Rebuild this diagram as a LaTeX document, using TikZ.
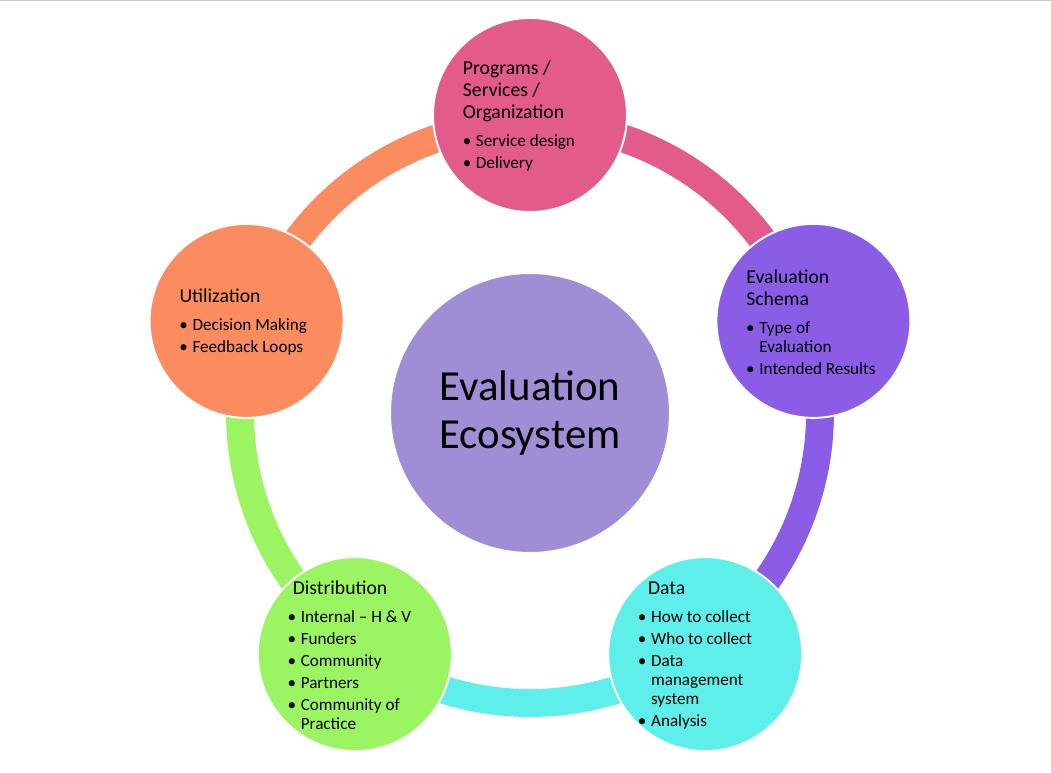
\documentclass[tikz,border=0pt]{standalone}
\usepackage{fontspec}
\setmainfont{Carlito}
\usepackage{tikz}
\usetikzlibrary{positioning, calc, backgrounds}
\definecolor{rosado}{RGB}{227,91,138}
\definecolor{morado}{RGB}{139,92,230}
\definecolor{celeste}{RGB}{94,239,234}
\definecolor{verdecito}{RGB}{155,244,98}
\definecolor{naranja}{RGB}{250,140,96}
\definecolor{lila}{RGB}{159,141,214}
\newcommand{\anilloradio}{5.8cm}
\newcommand{\cajaancho}{2.76cm}
\newcommand{\punto}[1]{\hangindent=8.5pt\hangafter=1\hspace*{1pt}\makebox[7.5pt][l]{\textbullet}#1\par}
\newcommand{\burbuja}[3][1.1pt]{\parbox[c]{\cajaancho}{\raggedright\hyphenpenalty=10000
  \fontsize{9.75}{10.8}\selectfont\parskip=1.7pt
  {\fontsize{11.2}{12.5}\selectfont\hangindent=1.1pt\hangafter=0\hspace*{\dimexpr#1-1.1pt\relax}#2\par}\vspace{3.4pt}#3}}
\tikzset{
  circulo/.style={circle, draw=white, line width=1.1pt, minimum size=3.88cm, inner sep=0pt},
  texto/.style={inner sep=0pt, yshift=-0.8pt},
  centrito/.style={circle, draw=white, line width=1.1pt, minimum size=5.6cm, inner sep=0pt,
    fill=lila, align=center, font=\fontsize{24.4}{27}\selectfont},
  banda/.style={line width=15.9pt}
}

\begin{document}
\begin{tikzpicture}[x=0.02cm, y=0.02cm]
  \useasboundingbox (-530,-360) rectangle (521,413);
  \draw [gray!45, line width=0.6pt] (-530,412.5) -- (521,412.5);

  \node [centrito] (centro) at (0,0) {Evaluation\\Ecosystem};

  \node [circulo, fill=rosado] (programas) at (90:298) {};
  \node [circulo, fill=morado] (esquema) at (18:298) {};
  \node [circulo, fill=celeste] (datos) at (-54:298) {};
  \node [circulo, fill=verdecito] (distribucion) at (234:298) {};
  \node [circulo, fill=naranja] (utilizacion) at (162:298) {};

  \node [texto] (t-programas) at (programas) {\burbuja{Programs /\newline Services /\newline Organization}{\punto{Service design}\punto{Delivery}}};
  \node [texto] (t-esquema) at (esquema) {\burbuja{Evaluation\newline Schema}{\punto{Type of\newline Evaluation}\punto{Intended Results}}};
  \node [texto] (t-datos) at (datos) {\burbuja[6.8pt]{Data}{\punto{How to collect}\punto{Who to collect}\punto{Data\newline management\newline system}\punto{Analysis}}};
  \node [texto] (t-distribucion) at (distribucion) {\burbuja[4pt]{Distribution}{\punto{Internal -- H \& V}\punto{Funders}\punto{Community}\punto{Partners}\punto{Community of\newline Practice}}};
  \node [texto] (t-utilizacion) at (utilizacion) {\burbuja{Utilization}{\punto{Decision Making}\punto{Feedback Loops}}};

  % ring segments behind the circles
  \coordinate (a-programas) at (90:290);
  \coordinate (a-esquema) at (18:290);
  \coordinate (a-datos) at (-54:290);
  \coordinate (a-distribucion) at (234:290);
  \coordinate (a-utilizacion) at (162:290);
  \begin{scope}[on background layer]
    \draw [banda, rosado] (a-programas) arc [start angle=90, end angle=18, radius=\anilloradio];
    \draw [banda, morado] (a-esquema) arc [start angle=18, end angle=-54, radius=\anilloradio];
    \draw [banda, celeste] (a-datos) arc [start angle=-54, end angle=-126, radius=\anilloradio];
    \draw [banda, verdecito] (a-distribucion) arc [start angle=234, end angle=162, radius=\anilloradio];
    \draw [banda, naranja] (a-utilizacion) arc [start angle=162, end angle=90, radius=\anilloradio];
  \end{scope}
\end{tikzpicture}
\end{document}
